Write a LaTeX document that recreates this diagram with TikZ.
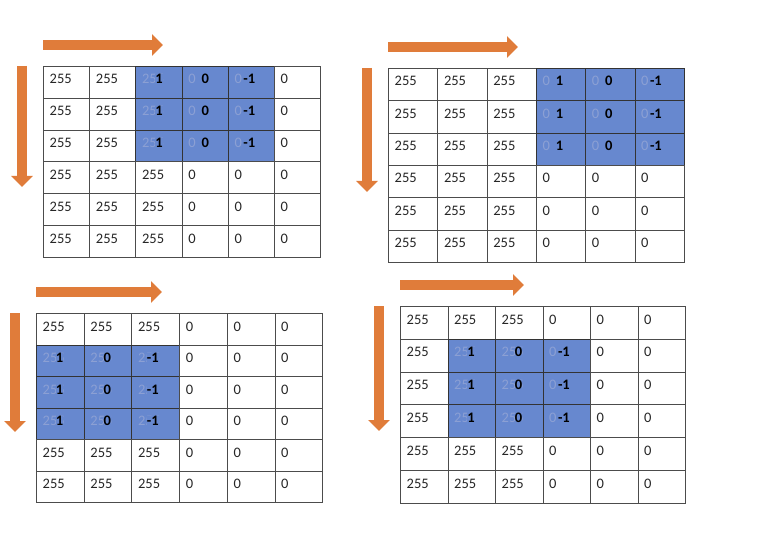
\documentclass[tikz,border=0pt]{standalone}
\usepackage{fontspec}
\setmainfont{Carlito}
\usetikzlibrary{arrows.meta, positioning}
\definecolor{winblue}{RGB}{103,136,207}
\definecolor{ghostblue}{RGB}{140,160,212}
\definecolor{slideorange}{RGB}{224,124,58}
\tikzset{
    base/.style={font=\fontsize{14.5}{17}\selectfont, text=black!85, inner sep=0pt},
    cell/.style={rectangle, draw=black!70, line width=0.8pt, fill=white, anchor=north west, inner sep=0pt},
    window/.style={cell, fill=winblue, draw=black!80},
    pixel/.style={base, anchor=base west, xshift=6.5pt, yshift=-18pt},
    ghost/.style={pixel, text=ghostblue},
    kernel/.style={base, anchor=base east, xshift=27.5pt, yshift=-18pt, fill=winblue, inner xsep=0pt, inner ysep=0.5pt, text=black, font=\fontsize{14.5}{17}\selectfont\bfseries},
    slide/.style={line width=9.5pt, draw=slideorange, -{Triangle[width=21pt, length=11pt]}}
}

\begin{document}
\begin{tikzpicture}[x=1pt, y=-1pt]
    \useasboundingbox[fill=white] (0,0) rectangle (768,548);
    % Panels: name / grid corner / cell size / window row, column / arrow lengths
    \foreach \p/\x/\y/\cw/\ch/\r/\c/\hl/\vl in {tl/43/66/46.2/31.8/1/3/120/121, tr/388/68/49.3/32.3/1/4/130/124, bl/36/313/47.7/31.5/2/1/126/119, br/400/306/47.5/32.8/2/2/124/125}{
        \foreach \i in {1,...,6}{
            \foreach \j in {1,...,6}{
                \pgfmathtruncatemacro\inw{(\i>=\r)&&(\i<=\r+2)&&(\j>=\c)&&(\j<=\c+2)}
                \pgfmathtruncatemacro\pval{\j<4 ? 255 : 0}
                \pgfmathtruncatemacro\kval{\c+1-\j}
                \ifnum\inw=1
                    \node (\p-\i-\j) [window, minimum width=\cw, minimum height=\ch] at (\x+\cw*\j-\cw, \y+\ch*\i-\ch) {};
                    \node [ghost] at (\p-\i-\j.north west) {\pval};
                    \node [kernel] at (\p-\i-\j.north west) {\kval};
                \else
                    \node (\p-\i-\j) [cell, minimum width=\cw, minimum height=\ch] at (\x+\cw*\j-\cw, \y+\ch*\i-\ch) {};
                    \node [pixel] at (\p-\i-\j.north west) {\pval};
                \fi
            }
        }
        % Slide directions
        \coordinate (\p-h0) at ([yshift=21pt]\p-1-1.north west);
        \coordinate (\p-h1) at ([xshift=\hl pt]\p-h0);
        \coordinate (\p-v0) at ([xshift=-21pt]\p-1-1.north west);
        \coordinate (\p-v1) at ([yshift=-\vl pt]\p-v0);
        \draw [slide] (\p-h0) -- (\p-h1);
        \draw [slide] (\p-v0) -- (\p-v1);
    }
\end{tikzpicture}
\end{document}
